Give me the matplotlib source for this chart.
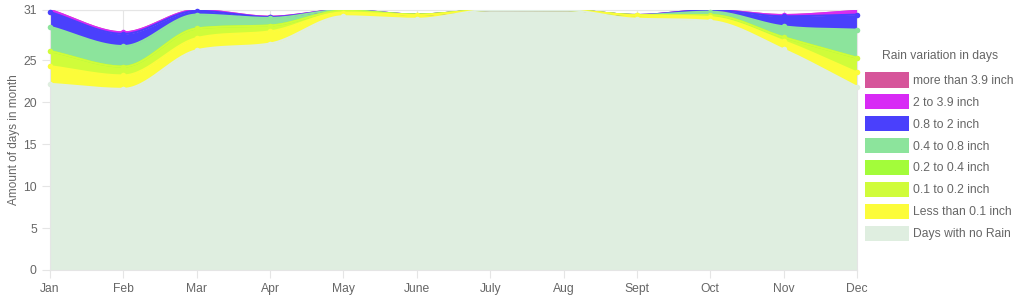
import numpy as np
import matplotlib
matplotlib.use("Agg")
import matplotlib.pyplot as plt
from matplotlib.patches import Patch

plt.rcParams['font.family'] = ['Liberation Sans', 'DejaVu Sans']

months = ["Jan", "Feb", "Mar", "Apr", "May", "June", "July", "Aug", "Sept", "Oct", "Nov", "Dec"]

# days per month in each rain bucket (bottom of stack first)
no_rain    = [22.2, 21.6, 26.2, 27.0, 30.25, 29.95, 31.0, 31.0, 29.95, 29.7, 26.3, 21.85]
lt_01      = [2.1, 1.6, 1.45, 1.45, 0.45, 0.45, 0.0, 0.0, 0.4, 0.45, 1.0, 1.7]
r01_02     = [1.8, 1.05, 1.15, 0.7, 0.2, 0.05, 0.0, 0.0, 0.05, 0.25, 0.45, 1.75]
r02_04     = [0.0, 0.0, 0.0, 0.0, 0.0, 0.0, 0.0, 0.0, 0.0, 0.0, 0.0, 0.0]
r04_08     = [2.9, 2.45, 1.65, 0.9, 0.1, 0.0, 0.0, 0.0, 0.0, 0.4, 1.3, 3.35]
r08_2      = [1.75, 1.45, 0.45, 0.1, 0.0, 0.0, 0.0, 0.0, 0.0, 0.2, 1.2, 1.8]
r2_39      = [0.25, 0.18, 0.1, 0.05, 0.0, 0.0, 0.0, 0.0, 0.0, 0.0, 0.15, 0.45]
gt_39      = [0.0, 0.0, 0.0, 0.0, 0.0, 0.0, 0.0, 0.0, 0.0, 0.0, 0.0, 0.0]

series = [no_rain, lt_01, r01_02, r02_04, r04_08, r08_2, r2_39, gt_39]
labels = ["Days with no Rain", "Less than 0.1 inch", "0.1 to 0.2 inch", "0.2 to 0.4 inch",
          "0.4 to 0.8 inch", "0.8 to 2 inch", "2 to 3.9 inch", "more than 3.9 inch"]
colors = ["#dfeee0", "#fcfc3a", "#d0fc3a", "#a3fc3a", "#8ce49c", "#4a40fc", "#d82af5", "#d6559a"]


def monotone(x, y, n=30):
    # Fritsch-Carlson monotone cubic, for smooth drawing between months
    x = np.asarray(x, float)
    y = np.asarray(y, float)
    h = np.diff(x)
    d = np.diff(y) / h
    m = np.zeros_like(y)
    m[0], m[-1] = d[0], d[-1]
    for i in range(1, len(y) - 1):
        m[i] = 0 if d[i - 1] * d[i] <= 0 else (d[i - 1] + d[i]) / 2
    for i in range(len(d)):
        if d[i] == 0:
            m[i] = m[i + 1] = 0
            continue
        a, b = m[i] / d[i], m[i + 1] / d[i]
        s = a * a + b * b
        if s > 9:
            t = 3 / np.sqrt(s)
            m[i], m[i + 1] = t * a * d[i], t * b * d[i]
    xs, ys = [], []
    for i in range(len(d)):
        t = np.linspace(0, 1, n, endpoint=(i == len(d) - 1))
        h00 = 2 * t**3 - 3 * t**2 + 1
        h10 = t**3 - 2 * t**2 + t
        h01 = -2 * t**3 + 3 * t**2
        h11 = t**3 - t**2
        xs.append(x[i] + t * h[i])
        ys.append(h00 * y[i] + h10 * h[i] * m[i] + h01 * y[i + 1] + h11 * h[i] * m[i + 1])
    return np.concatenate(xs), np.concatenate(ys)


fig = plt.figure(figsize=(10.24, 3.0), dpi=100)
ax = fig.add_axes([50 / 1024, 30 / 300, 807 / 1024, 260 / 300])

x = np.arange(len(months))
vals = np.array(series)
cum = np.cumsum(vals, axis=0)
lower = None
for i, (top, col) in enumerate(zip(cum, colors)):
    xs, ys = monotone(x, top)
    base = np.zeros_like(ys) if lower is None else lower
    ax.fill_between(xs, base, ys, color=col, lw=0, zorder=2)
    ax.plot(xs, ys, color=col, lw=1.5, zorder=20 - i)
    keep = (vals[i] > 0) & (top < 30.9)
    ax.scatter(x[keep], top[keep], s=16, color=col, zorder=20 - i, clip_on=False, lw=0)
    lower = ys

ax.set_xlim(0, len(months) - 1)
ax.set_ylim(0, 31)
ax.set_yticks([0, 5, 10, 15, 20, 25, 31])
ax.set_xticks(x)
ax.set_xticklabels(months)
ax.tick_params(colors="#666666", labelsize=8.7, length=6, width=0.8)
ax.tick_params(axis="both", color="#e5e5e5")
ax.grid(True, color="#e5e5e5", lw=0.8, zorder=0)
ax.set_axisbelow(True)
for sp in ax.spines.values():
    sp.set_color("#e5e5e5")
    sp.set_linewidth(0.8)
ax.set_ylabel("Amount of days in month", color="#666666", fontsize=8.5, labelpad=2)

fig.text(940 / 1024, 1 - 55.7 / 300, "Rain variation in days", color="#666666", fontsize=8.7,
         ha="center", va="center")
handles = [Patch(facecolor=c, edgecolor="none") for c in colors[::-1]]
leg = fig.legend(handles, labels[::-1], loc="upper left", bbox_to_anchor=(865 / 1024, 1 - 72 / 300),
                 frameon=False, fontsize=8.7, borderpad=0,
                 handlelength=3.6, handleheight=1.6, labelspacing=0.53, handletextpad=0.35,
                 borderaxespad=0)
for t in leg.get_texts():
    t.set_color("#666666")

fig.savefig("out.png", dpi=100)
